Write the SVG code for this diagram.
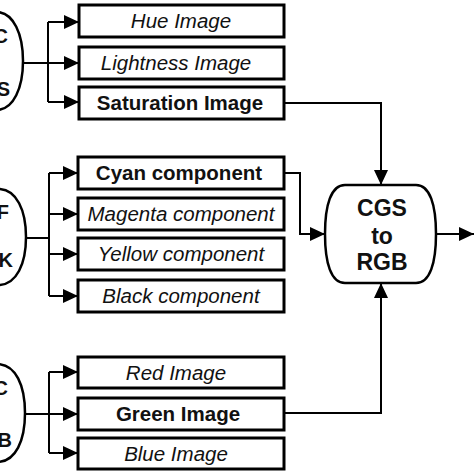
<svg xmlns="http://www.w3.org/2000/svg" width="474" height="474" viewBox="0 0 474 474">
<defs>
<style>
.box{fill:#fff;stroke:#000;stroke-width:3}
.oval{fill:#fff;stroke:#000;stroke-width:2.5}
.t{font-family:"Liberation Sans",Arial,sans-serif;font-size:20.5px;text-anchor:middle;fill:#111}
.i{font-style:italic}
.b{font-weight:bold}
.big{font-family:"Liberation Sans",Arial,sans-serif;font-size:23px;font-weight:bold;text-anchor:middle;fill:#111}
.lt{font-family:"Liberation Sans",Arial,sans-serif;font-size:20px;font-weight:bold;text-anchor:end;fill:#111}
.c{fill:none;stroke:#000;stroke-width:2}
</style>
<marker id="ah" markerUnits="userSpaceOnUse" markerWidth="15" markerHeight="14" refX="15" refY="7" orient="auto" viewBox="0 0 15 14">
<path d="M0,0 L15,7 L0,14 Z" fill="#000"/>
</marker>
</defs>
<rect width="474" height="474" fill="#fff"/>

<g id="connectors">
<path class="c" d="M23 63 H48 M48 22 V102" />
<path class="c" d="M48 22 H79" marker-end="url(#ah)"/>
<path class="c" d="M48 63 H79" marker-end="url(#ah)"/>
<path class="c" d="M48 102 H79" marker-end="url(#ah)"/>
<path class="c" d="M26 238 H49 M49 173 V296" />
<path class="c" d="M49 173 H78" marker-end="url(#ah)"/>
<path class="c" d="M49 214 H78" marker-end="url(#ah)"/>
<path class="c" d="M49 254 H78" marker-end="url(#ah)"/>
<path class="c" d="M49 296 H78" marker-end="url(#ah)"/>
<path class="c" d="M25 414 H49 M49 372 V453" />
<path class="c" d="M49 372 H78" marker-end="url(#ah)"/>
<path class="c" d="M49 414 H78" marker-end="url(#ah)"/>
<path class="c" d="M49 453 H78" marker-end="url(#ah)"/>
<path class="c" d="M285 103 H381 V185" marker-end="url(#ah)"/>
<path class="c" d="M285 173 H300 V234 H325" marker-end="url(#ah)"/>
<path class="c" d="M285 413 H381 V283" marker-end="url(#ah)"/>
<path class="c" d="M436 234 H474" marker-end="url(#ah)"/>
</g>

<g id="src-hls">
<path class="oval" d="M-60 12 H-4 C14 12 23 35 23 61 C23 87 14 110 -4 110 H-60 Z"/>
<text class="lt" x="8" y="43">C</text>
<text class="lt" x="10" y="96">S</text>
</g>
<g id="src-cmyk">
<path class="oval" d="M-60 189 H-2 C17 189 26 211 26 237 C26 263 17 285 -2 285 H-60 Z"/>
<text class="lt" x="9" y="219">F</text>
<text class="lt" x="13" y="267">K</text>
</g>
<g id="src-rgb">
<path class="oval" d="M-60 364 H-3 C16 364 25 386 25 413 C25 440 16 462 -3 462 H-60 Z"/>
<text class="lt" x="8" y="395">C</text>
<text class="lt" x="12" y="447">B</text>
</g>

<g id="hue"><rect class="box" x="79" y="5" width="205" height="32"/><text class="t i" x="181" y="28">Hue Image</text></g>
<g id="lightness"><rect class="box" x="79" y="47" width="205" height="32"/><text class="t i" x="176" y="70">Lightness Image</text></g>
<g id="saturation"><rect class="box" x="79" y="87" width="205" height="32"/><text class="t b" x="180" y="110">Saturation Image</text></g>

<g id="cyan"><rect class="box" x="78" y="157" width="206" height="32"/><text class="t b" x="179" y="180">Cyan component</text></g>
<g id="magenta"><rect class="box" x="78" y="198" width="206" height="32"/><text class="t i" x="181" y="221">Magenta component</text></g>
<g id="yellow"><rect class="box" x="78" y="238" width="206" height="32"/><text class="t i" x="181" y="261">Yellow component</text></g>
<g id="black"><rect class="box" x="78" y="280" width="206" height="32"/><text class="t i" x="181" y="303">Black component</text></g>

<g id="red"><rect class="box" x="78" y="357" width="206" height="31"/><text class="t i" x="176" y="380">Red Image</text></g>
<g id="green"><rect class="box" x="78" y="398" width="206" height="32"/><text class="t b" x="178" y="421">Green Image</text></g>
<g id="blue"><rect class="box" x="78" y="438" width="206" height="31"/><text class="t i" x="176" y="461">Blue Image</text></g>

<g id="cgs-to-rgb">
<path class="oval" d="M345 185 H416 C430 185 436 205 436 234 C436 263 430 283 416 283 H345 C331 283 325 263 325 234 C325 205 331 185 345 185 Z"/>
<text class="big" x="382" y="216">CGS</text>
<text class="big" x="382" y="244">to</text>
<text class="big" x="382" y="270">RGB</text>
</g>
</svg>
